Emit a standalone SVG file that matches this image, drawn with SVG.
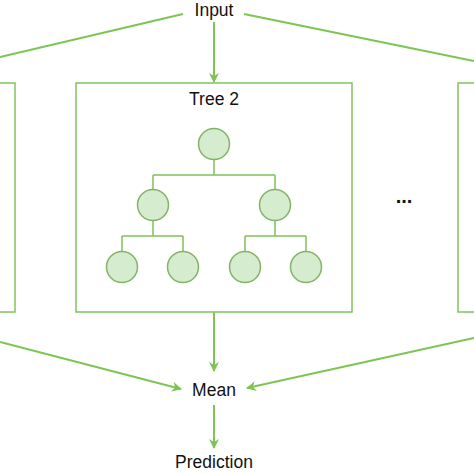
<svg xmlns="http://www.w3.org/2000/svg" width="474" height="474" viewBox="0 0 474 474">
<style>
.box{fill:none;stroke:#80c45c;stroke-width:1.5}
.edge{fill:none;stroke:#7cc553;stroke-width:2}
.tl{fill:none;stroke:#80c05a;stroke-width:1.5}
.nd{fill:#d6ecce;stroke:#82b366;stroke-width:1.5}
.lbl{font-family:"Liberation Sans",Arial,sans-serif;font-size:17.5px;fill:#111;text-anchor:middle}
</style>
<defs>
<marker id="ah" viewBox="0 0 10 10" refX="9" refY="5" markerWidth="10" markerHeight="10" orient="auto" markerUnits="userSpaceOnUse">
<path d="M0,0 L10,5 L0,10 L3,5 Z" fill="#7cc553"/>
</marker>
</defs>
<rect width="474" height="474" fill="#fff"/>
<g id="connectors">
<line class="edge" x1="214" y1="22" x2="214" y2="82" marker-end="url(#ah)"/>
<line class="edge" x1="183" y1="14" x2="0" y2="57"/>
<line class="edge" x1="244" y1="14" x2="474" y2="61"/>
<line class="edge" x1="214" y1="312" x2="214" y2="371" marker-end="url(#ah)"/>
<line class="edge" x1="0" y1="342" x2="181" y2="389" marker-end="url(#ah)"/>
<line class="edge" x1="474" y1="338" x2="247" y2="388" marker-end="url(#ah)"/>
<line class="edge" x1="214" y1="405" x2="214" y2="448" marker-end="url(#ah)"/>
</g>
<g id="input"><text class="lbl" x="214" y="16">Input</text></g>
<g id="tree1"><rect class="box" x="-60" y="83" width="75" height="229"/></g>
<g id="tree3"><rect class="box" x="458" y="83" width="75" height="229"/></g>
<g id="dots"><text class="lbl" x="404" y="203" style="font-weight:bold;font-size:20px">...</text></g>
<g id="tree2">
<rect class="box" x="76" y="83" width="276" height="229"/>
<text class="lbl" x="214" y="105">Tree 2</text>
<g class="tree-lines">
<path class="tl" d="M214,159 V175 M153,175 H275 M153,175 V190 M275,175 V190"/>
<path class="tl" d="M153,220 V236 M122,236 H183 M122,236 V251 M183,236 V251"/>
<path class="tl" d="M275,220 V236 M245,236 H306 M245,236 V251 M306,236 V251"/>
</g>
<circle class="nd" cx="214" cy="144" r="15.5"/>
<circle class="nd" cx="153" cy="205" r="15.5"/>
<circle class="nd" cx="275" cy="205" r="15.5"/>
<circle class="nd" cx="122" cy="267" r="15.5"/>
<circle class="nd" cx="183" cy="267" r="15.5"/>
<circle class="nd" cx="245" cy="267" r="15.5"/>
<circle class="nd" cx="306" cy="267" r="15.5"/>
</g>
<g id="mean"><text class="lbl" x="214" y="396">Mean</text></g>
<g id="prediction"><text class="lbl" x="214" y="468">Prediction</text></g>
</svg>
